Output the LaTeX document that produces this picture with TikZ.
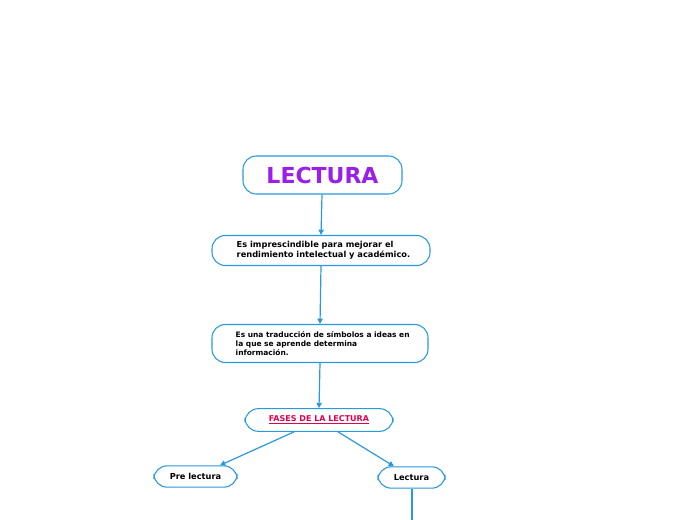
\documentclass[tikz,border=0pt]{standalone}
\usepackage{fontspec}
\setmainfont{DejaVu Sans}
\usetikzlibrary{arrows.meta}
\definecolor{edge}{HTML}{2A98DC}
\definecolor{purp}{HTML}{9B1FE8}
\definecolor{crim}{HTML}{E0004D}
\newcommand{\myul}[1]{\underline{\smash{#1}}}
\tikzset{
 box/.style={draw=edge,line width=0.8pt,rounded corners=10pt,fill=white,inner sep=0pt},
 conn/.style={draw=edge,line width=0.9pt,-{Triangle[length=4pt,width=4pt]}},
 txt/.style={font=\bfseries\fontsize{6.2}{7.2}\selectfont,align=left}
}
\begin{document}
\begin{tikzpicture}[x=0.75pt,y=-0.75pt]
\useasboundingbox (0,0) rectangle (696,520);
\node[box,minimum width=119.25pt,minimum height=28.5pt] (lec) at (322.5,175) {\textcolor{purp}{\bfseries\fontsize{16.5}{18}\selectfont LECTURA}};
\node[box,minimum width=163.5pt,minimum height=22.5pt] (b2) at (321,250.5) {};
\node[txt,anchor=west] at (232,250.5) {Es imprescindible para mejorar el\\rendimiento intelectual y académico.};
\node[box,minimum width=162pt,minimum height=28.5pt] (b3) at (320,343.5) {};
\node[txt,anchor=west,font=\bfseries\fontsize{5.6}{7}\selectfont] at (231,343.5) {Es una traducción de símbolos a ideas en\\la que se aprende determina\\información.};
\node[box,minimum width=111pt,minimum height=17pt] (fa) at (319,420) {\textcolor{crim}{\bfseries\fontsize{6}{7}\selectfont$\underline{\hbox{FASES DE LA LECTURA}}$}};
\node[box,minimum width=62.5pt,minimum height=16pt] (pre) at (195.5,476.5) {\bfseries\fontsize{6.2}{7}\selectfont Pre lectura};
\node[box,minimum width=50.5pt,minimum height=16pt] (le) at (411.5,477.5) {\bfseries\fontsize{6.2}{7}\selectfont Lectura};
\coordinate (end) at (412,520);
\draw[conn] (lec.south -| 322,0) -- (b2.north -| 321,0);
\draw[conn] (b2.south) -- (b3.north);
\draw[conn] (b3.south) -- (fa.north);
\draw[conn] (fa.south -| 294,0) -- (pre.north -| 220,0);
\draw[conn] (fa.south -| 338,0) -- (le.north -| 394,0);
\draw[draw=edge,line width=0.9pt] (le.south -| 412,0) -- (end);
\end{tikzpicture}
\end{document}
